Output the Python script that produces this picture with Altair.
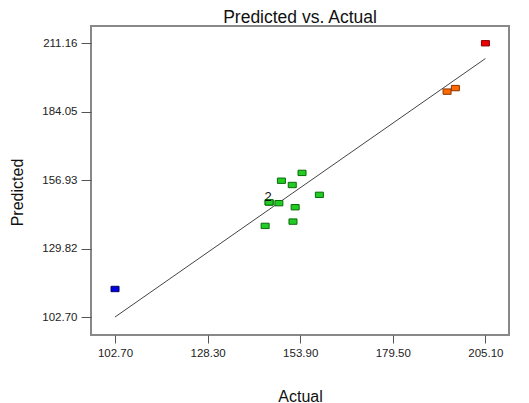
import altair as alt
import pandas as pd

# Data
actual = [102.70, 205.10, 194.5, 196.8, 154.4, 148.7, 151.7, 159.2, 145.3, 145.3, 148.0, 152.5, 151.9, 144.2]
predicted = [113.8, 211.16, 192.0, 193.4, 159.8, 156.7, 155.0, 151.1, 148.1, 148.1, 147.8, 146.2, 140.5, 138.8]
level = ["low", "top", "high", "high", "mid", "mid", "mid", "mid", "mid", "mid", "mid", "mid", "mid", "mid"]

x_ticks = [102.70, 128.30, 153.90, 179.50, 205.10]
y_ticks = [102.70, 129.82, 156.93, 184.05, 211.16]

line_x = [102.70, 205.10]
line_y = [102.70, 205.10]

count_label_x = [145.3]
count_label_y = [148.1]
count_label_text = ["2"]

chart_title = ["Predicted vs. Actual"]

x_domain = [96.06, 211.62]
y_domain = [95.57, 218.0]

level_names = ["low", "mid", "high", "top"]
fill_colors = ["#0000DD", "#22CC22", "#FF6A00", "#EE0000"]
stroke_colors = ["#000066", "#0A6A0A", "#8A3300", "#880000"]

pts = pd.DataFrame({"Actual": actual, "Predicted": predicted, "level": level})
ln = pd.DataFrame({"Actual": line_x, "Predicted": line_y})
lab = pd.DataFrame({"Actual": count_label_x, "Predicted": count_label_y, "t": count_label_text})
ttl = pd.DataFrame({"t": chart_title})

FONT = "Liberation Sans"
W, H = 418, 309

xscale = alt.Scale(domain=x_domain, nice=False, zero=False)
yscale = alt.Scale(domain=y_domain, nice=False, zero=False)

xaxis = alt.Axis(
    values=x_ticks, format=".2f", title="Actual", grid=False, domain=False,
    tickSize=8, tickColor="#555", labelPadding=4, labelFontSize=11.5, labelFont=FONT,
    labelColor="#222", titleFont=FONT, titleFontSize=16, titleFontWeight="normal",
    titleColor="#111", titleBaseline="alphabetic", titleY=66, labelFlush=False,
)
yaxis = alt.Axis(
    values=y_ticks, format=".2f", title="Predicted", grid=False, domain=False,
    tickSize=10, tickColor="#555", labelPadding=4, labelFontSize=11.5, labelFont=FONT,
    labelColor="#222", titleFont=FONT, titleFontSize=16, titleFontWeight="normal",
    titleColor="#111", titleBaseline="top", titleX=-82, titleY=166, titleAngle=-90,
    labelFlush=False,
)

line = alt.Chart(ln).mark_line(color="#444", strokeWidth=1).encode(
    x=alt.X("Actual:Q", scale=xscale, axis=xaxis),
    y=alt.Y("Predicted:Q", scale=yscale, axis=yaxis),
)

points = alt.Chart(pts).mark_point(
    shape="M-1,-0.67H1V0.67H-1Z", filled=True, opacity=1, strokeWidth=1, size=64
).encode(
    x=alt.X("Actual:Q", scale=xscale),
    y=alt.Y("Predicted:Q", scale=yscale),
    fill=alt.Fill("level:N", scale=alt.Scale(domain=level_names, range=fill_colors), legend=None),
    stroke=alt.Stroke("level:N", scale=alt.Scale(domain=level_names, range=stroke_colors), legend=None),
)

labels = alt.Chart(lab).mark_text(
    font=FONT, fontSize=13, color="#111", baseline="alphabetic", dy=-1, dx=-1
).encode(
    x=alt.X("Actual:Q", scale=xscale),
    y=alt.Y("Predicted:Q", scale=yscale),
    text="t:N",
)

title_text = alt.Chart(ttl).mark_text(
    font=FONT, fontSize=17.5, color="#111", baseline="alphabetic", align="center"
).encode(
    x=alt.value(W / 2),
    y=alt.value(-3.2),
    text="t:N",
)

chart = alt.layer(line, points, labels, title_text).properties(
    width=W,
    height=H,
    autosize=alt.AutoSizeParams(type="none"),
    padding={"left": 83, "top": 18, "right": 12, "bottom": 68},
).configure_view(stroke="#888", strokeWidth=2)

chart.save("out.html", embed_options={"renderer": "svg", "actions": False})
